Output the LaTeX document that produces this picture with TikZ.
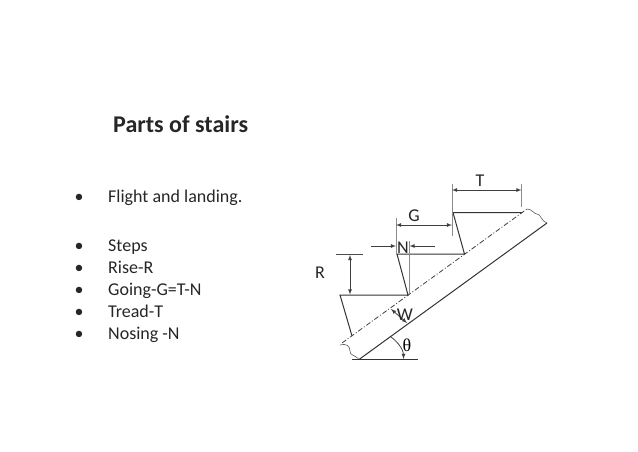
\documentclass[tikz,border=0pt]{standalone}
\usepackage{fontspec}
\setmainfont{Carlito}
\newfontfamily\greekfont{Liberation Serif}
\begin{document}
\begin{tikzpicture}[x=1pt,y=-1pt,>=latex,
    lbl/.style={inner sep=0pt,font=\fontsize{18}{20}\selectfont,text=black!85},
    item/.style={lbl,anchor=base west},
    bul/.style={lbl,anchor=base},
    solid line/.style={draw=black!80,line width=1pt},
    ext/.style={draw=black!45,line width=0.9pt},
    dim/.style={draw=black!75,line width=0.8pt,<->},
    lead/.style={draw=black!75,line width=0.8pt,->}]
    \useasboundingbox (0,0) rectangle (638,451);

    % Title and list
    \node[item,font=\fontsize{24}{26}\selectfont\bfseries] (title) at (113,132) {Parts of stairs};
    \node[bul] (b1) at (79,202) {•};
    \node[item] (t1) at (108,202) {Flight and landing.};
    \node[bul] (b2) at (79,251.5) {•};
    \node[item] (t2) at (108,251.5) {Steps};
    \node[bul] (b3) at (79,273.5) {•};
    \node[item] (t3) at (108,273.5) {Rise-R};
    \node[bul] (b4) at (79,295.5) {•};
    \node[item] (t4) at (108,295.5) {Going-G=T-N};
    \node[bul] (b5) at (79,317.5) {•};
    \node[item] (t5) at (108,317.5) {Tread-T};
    \node[bul] (b6) at (79,339.5) {•};
    \node[item] (t6) at (108,339.5) {Nosing -N};

    % Corners of the steps
    \coordinate (s1a) at (453,212.5);
    \coordinate (s1b) at (522,212.5);
    \coordinate (s1c) at (464.5,254);
    \coordinate (s2a) at (397,254);
    \coordinate (s2c) at (408,295);
    \coordinate (s3a) at (340,295);
    \coordinate (s3c) at (352,336);

    % Steps
    \draw[solid line] (s1b) -- (s1a) -- (s1c) -- (s2a) -- (s2c) -- (s3a) -- (s3c);

    % Slab with its broken ends
    \coordinate (base) at (359,359.5);
    \coordinate (top) at (547,223);
    \coordinate (axisa) at (342,343);
    \coordinate (axisb) at (527,209);
    \draw[solid line] (base) -- (top);
    \draw[draw=black!75,line width=0.8pt,dash pattern=on 5pt off 2pt on 1pt off 2pt] (axisa) -- (axisb);
    \draw[draw=black!65,line width=0.6pt] (340,345) .. controls (346,343) and (350,346) .. (350,351) .. controls (350,356) and (354,354) .. (base);
    \draw[draw=black!65,line width=0.6pt] (axisb) .. controls (532,209) and (534,214) .. (537,214) .. controls (541,214) and (540,220) .. (top);

    % Horizontal at the foot and the angle
    \coordinate (footl) at (352,359.5);
    \coordinate (footr) at (418,359.5);
    \coordinate (arca) at (391,337);
    \coordinate (arcb) at (403.5,359);
    \draw[solid line] (footl) -- (footr);
    \draw[lead] (arca) .. controls (398,342) and (403.5,350) .. (arcb);
    \node[inner sep=0pt,font=\fontsize{18}{20}\greekfont] (theta) at (407,345.5) {θ};

    % Extension lines
    \coordinate (e1a) at (452,184);
    \coordinate (e1b) at (452,236);
    \coordinate (e2a) at (521.5,184);
    \coordinate (e2b) at (521.5,207);
    \coordinate (e3a) at (396,218);
    \coordinate (e3b) at (396,255);
    \coordinate (e4a) at (409.5,241);
    \coordinate (e4b) at (409.5,294);
    \coordinate (e5a) at (336,254.5);
    \coordinate (e5b) at (363,254.5);
    \draw[ext] (e1a) -- (e1b);
    \draw[ext] (e2a) -- (e2b);
    \draw[ext] (e3a) -- (e3b);
    \draw[ext] (e4a) -- (e4b);
    \draw[draw=black!70,line width=0.8pt] (e5a) -- (e5b);

    % Dimensions
    \coordinate (ta) at (452,190);
    \coordinate (tb) at (521.5,190);
    \coordinate (ga) at (396,225);
    \coordinate (gb) at (452,225);
    \coordinate (na) at (371,246);
    \coordinate (nb) at (396,246);
    \coordinate (nc) at (435,246);
    \coordinate (nd) at (409.5,246);
    \coordinate (ra) at (350,255);
    \coordinate (rb) at (350,294.5);
    \coordinate (wa) at (391,309);
    \coordinate (wb) at (407,323);
    \draw[dim] (ta) -- (tb);
    \draw[dim] (ga) -- (gb);
    \draw[lead] (na) -- (nb);
    \draw[lead] (nc) -- (nd);
    \draw[dim] (ra) -- (rb);
    \draw[dim] (wa) -- (wb);

    % Labels
    \node[lbl] (T) at (480,180.5) {T};
    \node[lbl] (G) at (414,215.5) {G};
    \node[lbl] (N) at (403,247.5) {N};
    \node[lbl] (R) at (320,272.5) {R};
    \node[lbl] (W) at (405,314.5) {W};
\end{tikzpicture}
\end{document}
